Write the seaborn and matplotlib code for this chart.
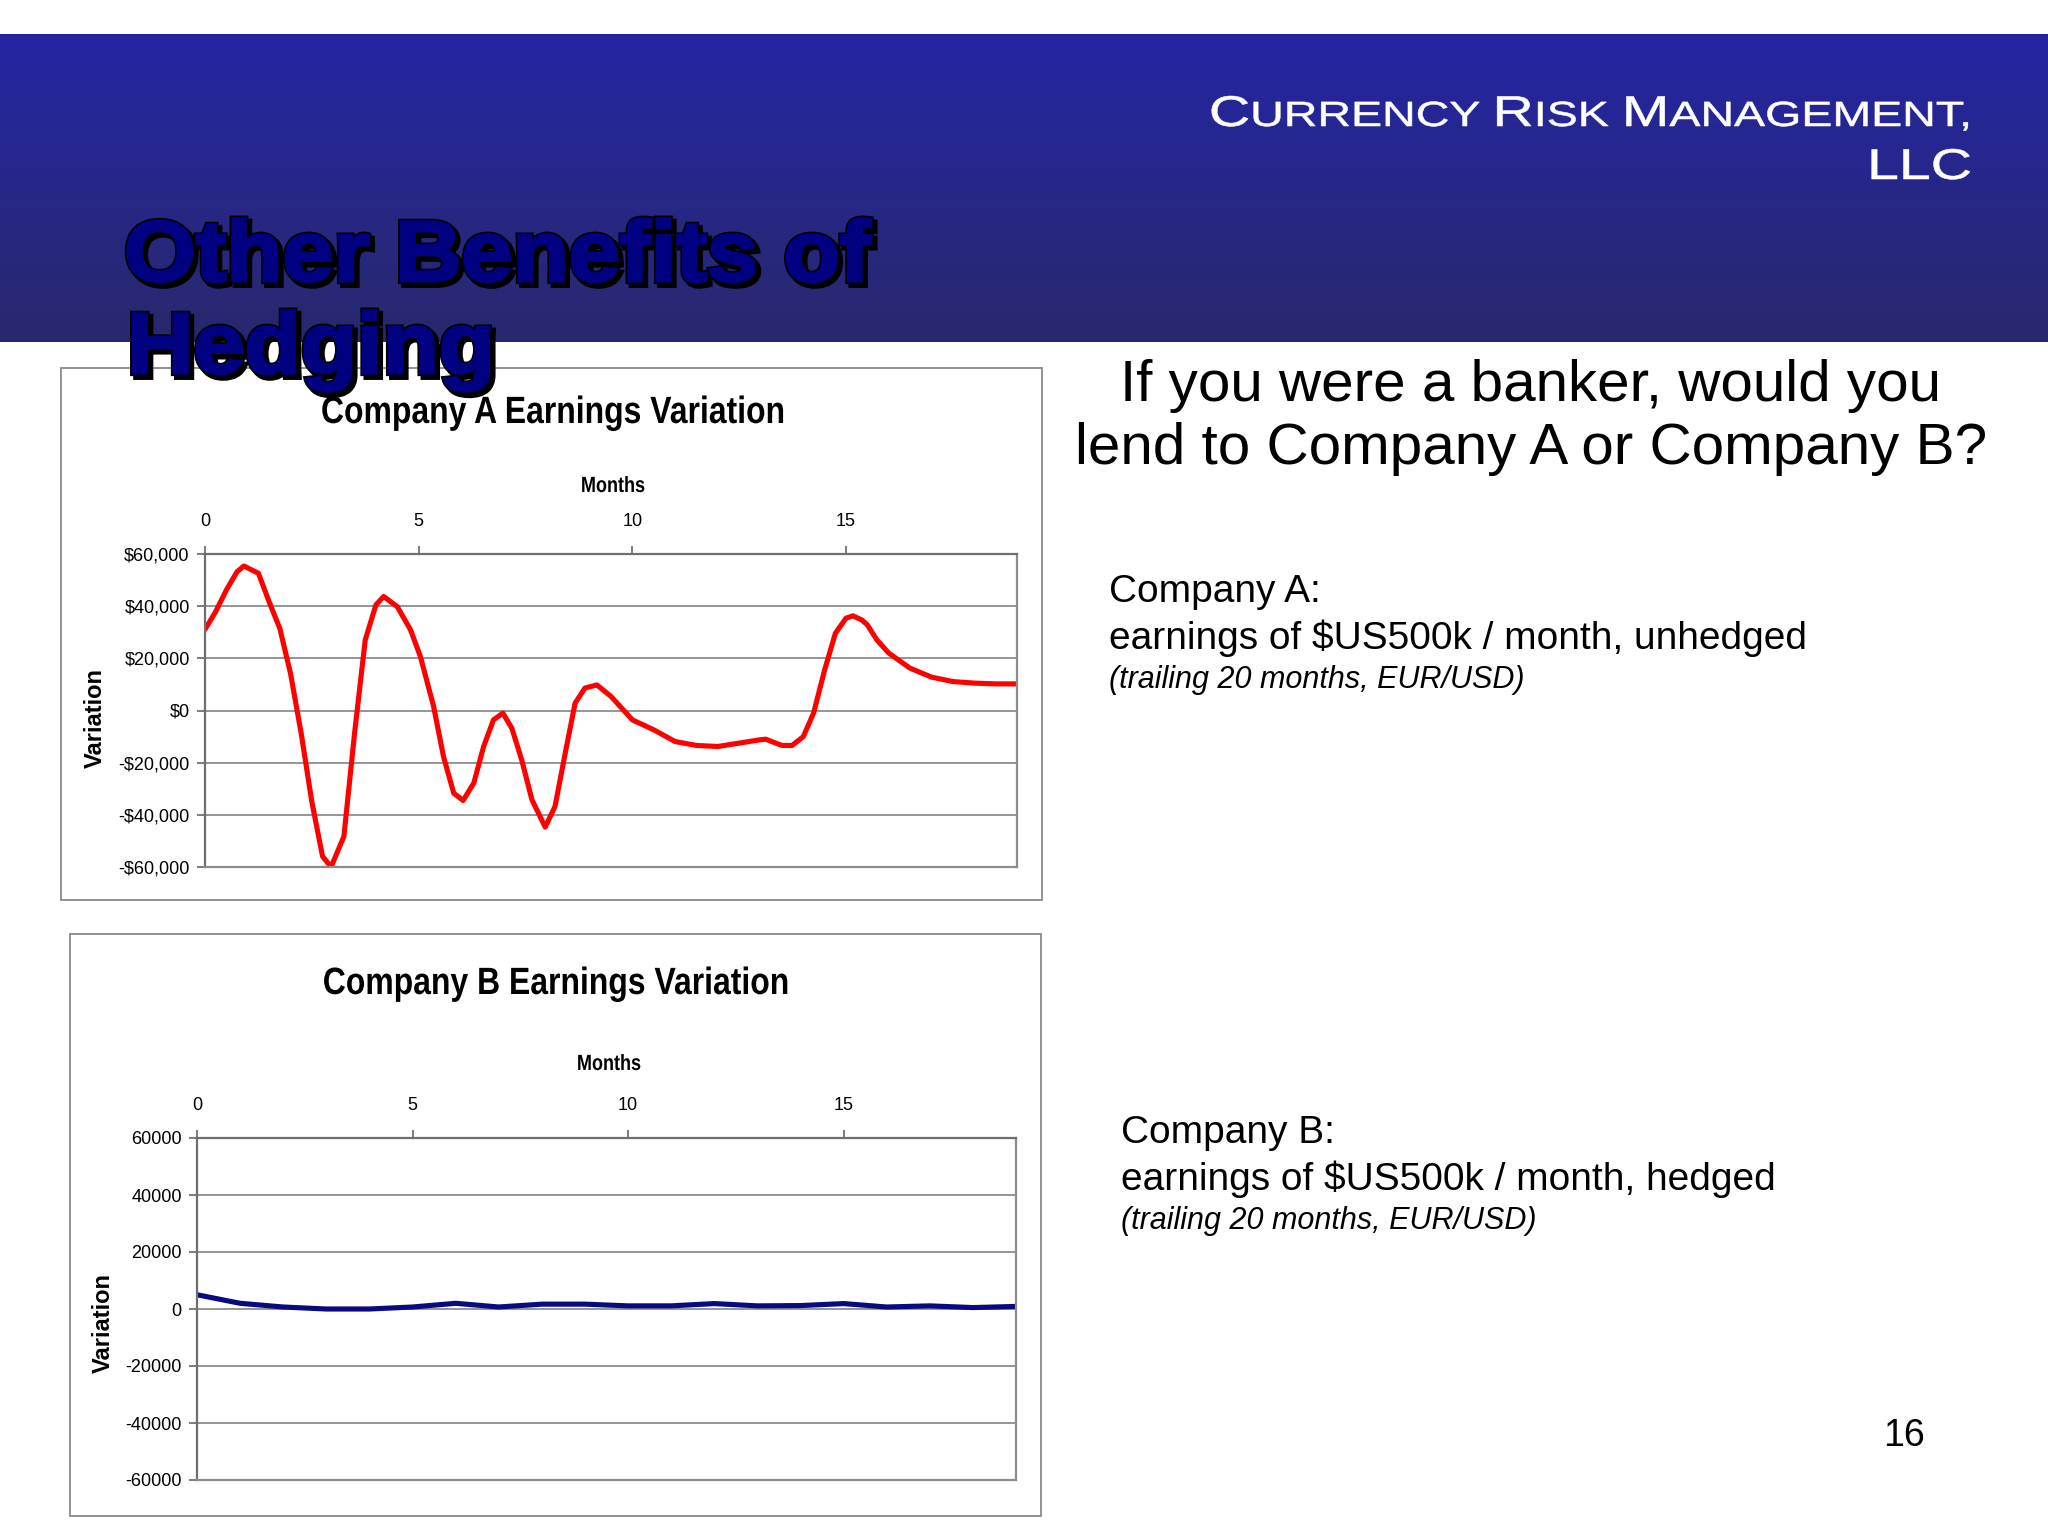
import matplotlib
matplotlib.use("Agg")
import matplotlib.pyplot as plt
import matplotlib.patheffects as pe
from matplotlib.patches import Rectangle, PathPatch
from matplotlib.textpath import TextPath, text_to_path
from matplotlib.font_manager import FontProperties
from matplotlib.transforms import Affine2D
import numpy as np
import seaborn as sns

# --- Data ---

# Company A (unhedged)
months_a = [0.00, 0.25, 0.50, 0.75, 0.91, 1.25, 1.50, 1.75, 2.00, 2.25, 2.50, 2.75,
            2.95, 3.25, 3.50, 3.75, 4.00, 4.18, 4.50, 4.81, 5.04, 5.35, 5.58, 5.82,
            6.04, 6.29, 6.52, 6.75, 6.97, 7.18, 7.41, 7.65, 7.96, 8.19, 8.43, 8.66,
            8.89, 9.17, 9.50, 10.00, 10.50, 11.00, 11.50, 12.00, 12.50, 13.00, 13.12,
            13.50, 13.74, 14.00, 14.24, 14.50, 14.75, 15.00, 15.16, 15.37, 15.50,
            15.72, 16.00, 16.50, 17.00, 17.50, 18.00, 18.50, 19.00]
variation_a = [31100, 37900, 46200, 53200, 55400, 52600, 41700, 31500, 14300, -8700,
               -35000, -55900, -60000, -48300, -8700, 27100, 40500, 43700, 39800,
               30900, 20700, 1500, -17600, -31700, -34500, -27800, -13800, -3600,
               -1000, -6800, -18900, -34200, -44700, -36800, -16300, 2800, 8600, 9800,
               5400, -3600, -7400, -11900, -13400, -13800, -12500, -11200, -11000,
               -13400, -13400, -10000, -1000, 15600, 29600, 35400, 36300, 34700,
               32800, 27100, 22000, 16200, 12800, 11100, 10500, 10200, 10200]

# Company B (hedged): monthly values
months_b = list(range(20))
variation_b = [5000, 2000, 700, 0, 0, 700, 2000, 700, 1700, 1700,
               1100, 1100, 1900, 1100, 1200, 1900, 700, 1100, 500, 900]

x_ticks = [0, 5, 10, 15]
y_ticks = [-60000, -40000, -20000, 0, 20000, 40000, 60000]
y_labels_a = ['-$60,000', '-$40,000', '-$20,000', '$0', '$20,000', '$40,000', '$60,000']
y_labels_b = ['-60000', '-40000', '-20000', '0', '20000', '40000', '60000']

W, H = 2048, 1536
sns.set_theme(style="white")
plt.rcParams['font.family'] = ['Liberation Sans', 'DejaVu Sans']
for key in ('text.color', 'axes.labelcolor', 'xtick.labelcolor', 'ytick.labelcolor'):
    plt.rcParams[key] = 'black'

fig = plt.figure(figsize=(W / 100, H / 100), dpi=100)
fig.patch.set_facecolor('white')


def box(x0, y0, x1, y1):
    # pixel box measured from the top-left -> figure fraction rect
    return [x0 / W, 1 - y1 / H, (x1 - x0) / W, (y1 - y0) / H]


def ftext(x, y, s, **kw):
    return fig.text(x / W, 1 - y / H, s, **kw)


def text_width(s, size, weight='normal'):
    fp = FontProperties(family='Liberation Sans', weight=weight, size=size)
    return text_to_path.get_text_width_height_descent(s, fp, ismath=False)[0]


def path_text(x, baseline, s, size, sx=1.0, weight='normal', ha='center',
              color='black', lw=0, effects=None, zorder=6):
    # text drawn as an outline so it can be squeezed / stretched sideways
    w = text_width(s, size, weight) * sx
    x0 = {'center': x - w / 2, 'left': x, 'right': x - w}[ha]
    path = TextPath((0, 0), s, size=size,
                    prop=FontProperties(family='Liberation Sans', weight=weight))
    tr = Affine2D().scale(sx, 1).translate(x0, H - baseline)
    patch = PathPatch(path, transform=tr, fc=color, ec=color, lw=lw, zorder=zorder)
    if effects:
        patch.set_path_effects(effects)
    fig.add_artist(patch)
    return w


# --- header band with vertical gradient ---
hdr = fig.add_axes(box(0, 34, W, 342), zorder=-5)
top_c = np.array([0.145, 0.145, 0.64])
bot_c = np.array([0.16, 0.16, 0.43])
grad = np.linspace(0, 1, 256)[:, None, None]
hdr.imshow(top_c + (bot_c - top_c) * grad, aspect='auto', extent=(0, 1, 0, 1))
hdr.axis('off')


def small_caps(text, right, baseline, big, small, sx, color='white'):
    runs = []
    for ch in text:
        size = big if ch.isupper() else small
        if runs and runs[-1][1] == size:
            runs[-1][0] += ch.upper()
        else:
            runs.append([ch.upper(), size])
    total = sum(text_width(s, size) * sx for s, size in runs)
    x = right - total
    for s, size in runs:
        x += path_text(x, baseline, s, size, sx=sx, ha='left', color=color,
                       lw=0.4, zorder=5)


small_caps('Currency Risk Management,', 1972, 126, 43, 35, 1.33)
small_caps('LLC', 1972, 179, 43, 35, 1.33)

title_fx = [pe.Stroke(linewidth=5, foreground='black', offset=(2.5, -2.5)),
            pe.Stroke(linewidth=4.5, foreground='black'), pe.Normal()]
for txt, x, y in [('Other Benefits of', 124, 281), ('Hedging', 127, 373)]:
    path_text(x, y, txt, 86, sx=1.07, weight='bold', ha='left', color='#000080',
              lw=2.2, effects=title_fx, zorder=10)

# --- chart frames ---
for x0, y0, x1, y1 in [(61, 368, 1042, 900), (70, 934, 1041, 1516)]:
    fig.add_artist(Rectangle((x0 / W, 1 - y1 / H), (x1 - x0) / W, (y1 - y0) / H,
                             transform=fig.transFigure, fc='white', ec='#8a8a8a',
                             lw=1.3, zorder=-1))


def earnings_panel(rect, months, values, color, ylabels, title, title_xy, months_xy, var_xy):
    ax = fig.add_axes(box(*rect))
    sns.lineplot(x=months, y=values, ax=ax, color=color, linewidth=3.7, sort=False)
    ax.set_xlim(0, 19)
    ax.set_ylim(-60000, 60000)
    ax.xaxis.tick_top()
    ax.set_xticks(x_ticks)
    ax.set_xticklabels([str(t) for t in x_ticks])
    ax.set_yticks(y_ticks)
    ax.set_yticklabels(ylabels)
    ax.tick_params(axis='x', top=True, bottom=False, direction='out', length=6,
                   width=1.2, color='#666666', pad=11, labelsize=13)
    ax.tick_params(axis='y', left=True, direction='out', length=6, width=1.2,
                   color='#666666', pad=5, labelsize=13)
    ax.grid(axis='y', color='#8c8c8c', lw=1.3)
    ax.grid(axis='x', visible=False)
    ax.set_xlabel('')
    ax.set_ylabel('')
    for name, sp in ax.spines.items():
        sp.set_color('#6e6e6e' if name in ('top', 'left') else '#8c8c8c')
        sp.set_linewidth(1.6)
    path_text(*title_xy, title, 38, sx=0.84, weight='bold')
    path_text(*months_xy, 'Months', 22, sx=0.82, weight='bold')
    ftext(*var_xy, 'Variation', fontsize=17, fontweight='bold', rotation=90,
          ha='center', va='center')
    return ax


earnings_panel((205, 554, 1017, 867), months_a, variation_a, '#ff0000', y_labels_a,
               'Company A Earnings Variation', (553, 423), (613, 492), (95, 718))
earnings_panel((197, 1138, 1016, 1480), months_b, variation_b, '#0a0a80', y_labels_b,
               'Company B Earnings Variation', (556, 994), (609, 1070), (103, 1323))

# --- right-hand text ---
ftext(1531, 401, 'If you were a banker, would you', fontsize=42, ha='center', va='baseline')
ftext(1531, 464, 'lend to Company A or Company B?', fontsize=42, ha='center', va='baseline')

ftext(1109, 602, 'Company A:', fontsize=28, va='baseline')
ftext(1109, 649, 'earnings of $US500k / month, unhedged', fontsize=28, va='baseline')
ftext(1109, 688, '(trailing 20 months, EUR/USD)', fontsize=22, style='italic', va='baseline')

ftext(1121, 1143, 'Company B:', fontsize=28, va='baseline')
ftext(1121, 1190, 'earnings of $US500k / month, hedged', fontsize=28, va='baseline')
ftext(1121, 1229, '(trailing 20 months, EUR/USD)', fontsize=22, style='italic', va='baseline')

ftext(1904, 1446, '16', fontsize=27, ha='center', va='baseline')

fig.savefig('out.png', dpi=100)
